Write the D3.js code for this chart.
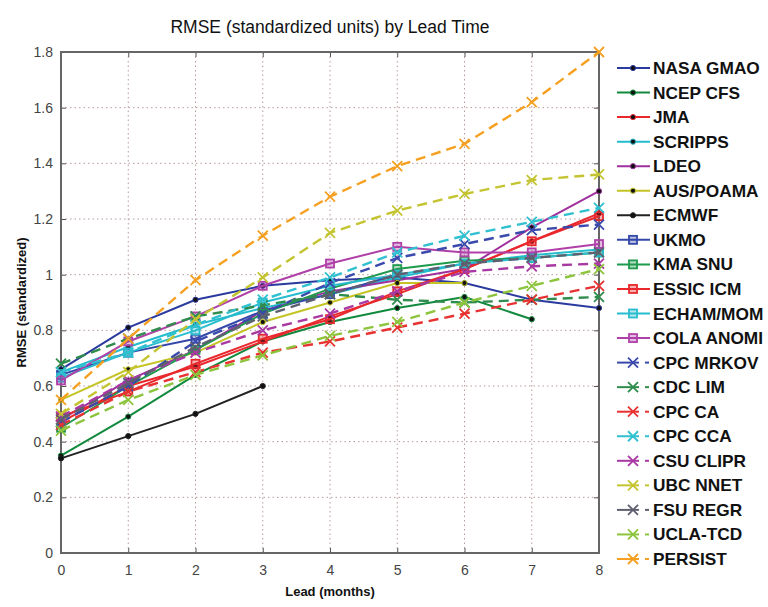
<!DOCTYPE html>
<meta charset="utf-8">
<head>
<style>
  body { margin: 0; background: #fff; }
  svg { display: block; }
  .tick text { font-family: "Liberation Sans", Arial, sans-serif; font-size: 14px; fill: #444; }
</style>
</head>
<body>
  <script src="https://d3js.org/d3.v7.min.js"></script>
  <script>
    // lead months
    var leads = [0, 1, 2, 3, 4, 5, 6, 7, 8];
    var yTicks = [0, 0.2, 0.4, 0.6, 0.8, 1, 1.2, 1.4, 1.6, 1.8];

    // RMSE per model (null = no forecast)
    var nasaGmao  = [0.66, 0.81, 0.91, 0.96, 0.98, 0.99, 0.97, 0.91, 0.88];
    var ncepCfs   = [0.35, 0.49, 0.64, 0.76, 0.83, 0.88, 0.92, 0.84, null];
    var jma       = [0.47, 0.60, 0.67, 0.76, 0.85, 0.93, 1.02, 1.12, 1.22];
    var scripps   = [0.65, 0.74, 0.82, 0.88, 0.93, 0.99, 1.04, 1.07, 1.09];
    var ldeo      = [0.48, 0.62, 0.73, 0.87, 0.94, 0.98, 1.02, 1.17, 1.30];
    var ausPoama  = [0.55, 0.66, 0.72, 0.83, 0.90, 0.97, 0.97, null, null];
    var ecmwf     = [0.34, 0.42, 0.50, 0.60, null, null, null, null, null];
    var ukmo      = [0.64, 0.72, 0.77, 0.87, 0.93, 1.00, null, null, null];
    var kmaSnu    = [0.45, 0.60, 0.73, 0.86, 0.95, 1.02, 1.05, 1.06, 1.08];
    var essicIcm  = [0.49, 0.58, 0.68, 0.77, 0.84, 0.94, 1.02, 1.12, 1.21];
    var echamMom  = [0.63, 0.72, 0.80, 0.90, 0.96, 1.00, 1.04, 1.06, 1.08];
    var colaAnomi = [0.62, 0.76, 0.85, 0.96, 1.04, 1.10, 1.08, 1.08, 1.11];
    var cpcMrkov  = [0.47, 0.60, 0.76, 0.86, 0.97, 1.06, 1.11, 1.16, 1.18];
    var cdcLim    = [0.68, 0.77, 0.85, 0.89, 0.93, 0.91, 0.90, 0.91, 0.92];
    var cpcCa     = [0.46, 0.58, 0.65, 0.72, 0.76, 0.81, 0.86, 0.91, 0.96];
    var cpcCca    = [0.65, 0.72, 0.82, 0.91, 0.99, 1.08, 1.14, 1.19, 1.24];
    var csuClipr  = [0.49, 0.62, 0.72, 0.80, 0.86, 0.94, 1.01, 1.03, 1.04];
    var ubcNnet   = [0.50, 0.65, 0.84, 0.99, 1.15, 1.23, 1.29, 1.34, 1.36];
    var fsuRegr   = [0.48, 0.61, 0.74, 0.85, 0.93, 1.00, 1.04, 1.06, 1.08];
    var uclaTcd   = [0.44, 0.55, 0.64, 0.71, 0.78, 0.83, 0.90, 0.96, 1.02];
    var persist   = [0.55, 0.77, 0.98, 1.14, 1.28, 1.39, 1.47, 1.62, 1.80];

    var names = ["NASA GMAO", "NCEP CFS", "JMA", "SCRIPPS", "LDEO", "AUS/POAMA", "ECMWF",
      "UKMO", "KMA SNU", "ESSIC ICM", "ECHAM/MOM", "COLA ANOMI",
      "CPC MRKOV", "CDC LIM", "CPC CA", "CPC CCA", "CSU CLIPR", "UBC NNET", "FSU REGR", "UCLA-TCD", "PERSIST"];
    var values = [nasaGmao, ncepCfs, jma, scripps, ldeo, ausPoama, ecmwf,
      ukmo, kmaSnu, essicIcm, echamMom, colaAnomi,
      cpcMrkov, cdcLim, cpcCa, cpcCca, csuClipr, ubcNnet, fsuRegr, uclaTcd, persist];

    // styles
    var colors = ["#2b3a9e", "#128a3e", "#e8282c", "#22bccd", "#a0309e", "#c4c426", "#222222",
      "#3448aa", "#1f9a4c", "#e8282c", "#28bccf", "#b040a8",
      "#3a4aac", "#2f8c4c", "#e83232", "#30c0d0", "#a838a2", "#c4c430", "#5e6070", "#8cc43c", "#f5a020"];
    var markers = ["dot", "dot", "dot", "dot", "dot", "dot", "dot",
      "square", "square", "square", "square", "square",
      "x", "x", "x", "x", "x", "x", "x", "x", "x"];

    var margin = { top: 52, right: 169, bottom: 54, left: 61 },
      width = 768 - margin.left - margin.right,
      height = 607 - margin.top - margin.bottom;

    var svg = d3.select("body")
      .append("svg")
      .attr("width", 768)
      .attr("height", 607);

    var g = svg.append("g")
      .attr("transform", "translate(" + margin.left + "," + margin.top + ")");

    var x = d3.scaleLinear().domain([0, 8]).range([0, width]);
    var y = d3.scaleLinear().domain([0, 1.8]).range([height, 0]);

    // dotted grid
    g.append("g").selectAll("line")
      .data(leads.slice(1, -1))
      .enter().append("line")
      .attr("x1", d => x(d)).attr("x2", d => x(d))
      .attr("y1", 0).attr("y2", height)
      .style("stroke", "#b89a9a").style("stroke-width", 1)
      .style("stroke-dasharray", "1.5,3");
    g.append("g").selectAll("line")
      .data(yTicks.slice(1, -1))
      .enter().append("line")
      .attr("x1", 0).attr("x2", width)
      .attr("y1", d => y(d)).attr("y2", d => y(d))
      .style("stroke", "#b89a9a").style("stroke-width", 1)
      .style("stroke-dasharray", "1.5,3");

    // axes (matlab style, inward ticks on all sides)
    var fmt = d => d3.format("")(+d.toFixed(1));
    g.append("g").attr("transform", "translate(0," + height + ")")
      .call(d3.axisBottom(x).tickValues(leads).tickSize(-5).tickPadding(12).tickFormat(fmt))
      .call(a => a.select(".domain").remove());
    g.append("g")
      .call(d3.axisLeft(y).tickValues(yTicks).tickSize(-5).tickPadding(8).tickFormat(fmt))
      .call(a => a.select(".domain").remove());
    g.append("g")
      .call(d3.axisTop(x).tickValues(leads).tickSize(-5).tickFormat(""))
      .call(a => a.select(".domain").remove());
    g.append("g").attr("transform", "translate(" + width + ",0)")
      .call(d3.axisRight(y).tickValues(yTicks).tickSize(-5).tickFormat(""))
      .call(a => a.select(".domain").remove());
    g.selectAll(".tick line").style("stroke", "#555");

    g.append("rect")
      .attr("width", width).attr("height", height)
      .style("fill", "none").style("stroke", "#666").style("stroke-width", 2);

    var line = d3.line()
      .defined(d => d.v !== null)
      .x(d => x(d.lead))
      .y(d => y(d.v));

    function drawMarker(sel, type, color) {
      if (type === "dot") {
        sel.append("circle").attr("r", 2.6)
          .style("fill", "#111").style("stroke", color).style("stroke-width", 1);
      } else if (type === "square") {
        sel.append("rect").attr("x", -4).attr("y", -4).attr("width", 8).attr("height", 8)
          .style("fill", color).style("fill-opacity", 0.35)
          .style("stroke", color).style("stroke-width", 1.8);
      } else {
        sel.append("path").attr("d", "M-5,-5L5,5M-5,5L5,-5")
          .style("stroke", color).style("stroke-width", 1.8).style("fill", "none");
      }
    }

    var series = names.map(function (n, i) {
      return {
        name: n, color: colors[i], marker: markers[i], dashed: markers[i] === "x",
        points: leads.map((l, j) => ({ lead: l, v: values[i][j] }))
      };
    });

    var lines = g.append("g");
    series.forEach(function (s) {
      lines.append("path")
        .datum(s.points)
        .attr("d", line)
        .style("fill", "none")
        .style("stroke", s.color)
        .style("stroke-width", s.dashed ? 2.4 : 2)
        .style("stroke-dasharray", s.dashed ? "10,6" : null);
      lines.append("g").selectAll("g")
        .data(s.points.filter(d => d.v !== null))
        .enter().append("g")
        .attr("transform", d => "translate(" + x(d.lead) + "," + y(d.v) + ")")
        .each(function () { drawMarker(d3.select(this), s.marker, s.color); });
    });

    // title and axis labels
    svg.append("text")
      .attr("x", margin.left + width / 2).attr("y", 33)
      .attr("text-anchor", "middle")
      .style("font-family", "'Liberation Sans', Arial, sans-serif")
      .style("font-size", "17.5px").style("fill", "#111")
      .text("RMSE (standardized units) by Lead Time");
    svg.append("text")
      .attr("x", margin.left + width / 2).attr("y", 596)
      .attr("text-anchor", "middle")
      .style("font-family", "'Liberation Sans', Arial, sans-serif")
      .style("font-size", "13px").style("font-weight", "bold").style("fill", "#111")
      .text("Lead (months)");
    svg.append("text")
      .attr("transform", "translate(26," + (margin.top + height / 2) + ") rotate(-90)")
      .attr("text-anchor", "middle")
      .style("font-family", "'Liberation Sans', Arial, sans-serif")
      .style("font-size", "13px").style("font-weight", "bold").style("fill", "#111")
      .text("RMSE (standardized)");

    // legend
    var legend = svg.append("g").attr("transform", "translate(617,68)");
    var item = legend.selectAll("g")
      .data(series)
      .enter().append("g")
      .attr("transform", (d, i) => "translate(0," + (i * 24.55) + ")");
    item.append("line")
      .attr("x1", 0).attr("x2", d => d.dashed ? 22 : 33)
      .style("stroke", d => d.color).style("stroke-width", 2);
    item.filter(d => d.dashed).append("line")
      .attr("x1", 28).attr("x2", 32)
      .style("stroke", d => d.color).style("stroke-width", 2);
    item.append("g").attr("transform", "translate(16,0)")
      .each(function (d) { drawMarker(d3.select(this), d.marker, d.color); });
    item.append("text")
      .attr("transform", "translate(36,6) scale(1.08,1)")
      .style("font-family", "'Liberation Sans', Arial, sans-serif")
      .style("font-size", "16px").style("font-weight", "bold").style("fill", "#111")
      .text(d => d.name);
  </script>
</body>
</html>
